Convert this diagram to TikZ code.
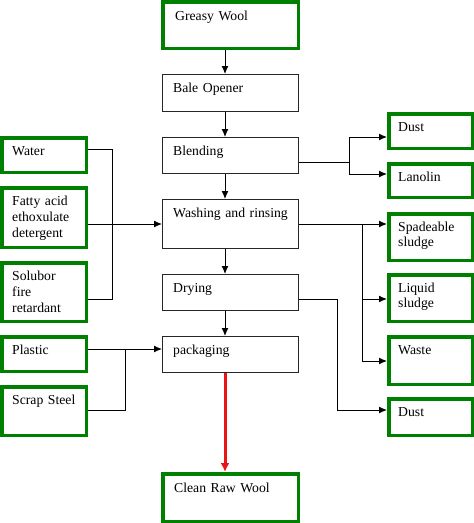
\documentclass[tikz,border=0pt]{standalone}
\usepackage{fontspec}
\setmainfont{Liberation Serif}
\usetikzlibrary{arrows.meta}
\definecolor{boxgreen}{RGB}{0,128,0}
\definecolor{flowred}{RGB}{235,20,20}

\begin{document}
\begin{tikzpicture}[x=1pt,y=-1pt,inner sep=0pt]
\tikzstyle{gbox}=[rectangle, draw=boxgreen, line width=3.5pt, anchor=north west]
\tikzstyle{pbox}=[rectangle, draw=black!85, line width=1pt, anchor=north west, minimum width=136pt]
\tikzstyle{lbox}=[gbox, minimum width=84.5pt]
\tikzstyle{rbox}=[gbox, minimum width=83.5pt]
\tikzstyle{lab}=[anchor=base west, text width=120pt, align=left, font=\fontsize{13.7}{15.8}\selectfont]
\tikzstyle{connect}=[-{Latex[length=8pt,width=7pt]}, line width=1pt]
\tikzstyle{plain}=[line width=1pt]
\tikzstyle{final}=[-{Latex[length=9pt,width=9pt]}, line width=3pt, draw=flowred, fill=flowred]
\useasboundingbox (0,0) rectangle (474,523);
% main line
\node[gbox, minimum width=135.5pt, minimum height=46.5pt] (greasy) at (161,0) {};
\node[pbox, minimum height=37pt] (bale) at (162,74) {};
\node[pbox, minimum height=36pt] (blend) at (162,137) {};
\node[pbox, minimum height=49pt] (wash) at (162,199) {};
\node[pbox, minimum height=36pt] (dry) at (162,274) {};
\node[pbox, minimum height=36pt] (pack) at (162,336) {};
\node[gbox, minimum width=135.5pt, minimum height=47.5pt] (clean) at (161,472) {};
% inputs
\node[lbox, minimum height=34.5pt] (water) at (0,136) {};
\node[lbox, minimum height=59.5pt] (fatty) at (0,186) {};
\node[lbox, minimum height=58.5pt] (solubor) at (0,261) {};
\node[lbox, minimum height=34.5pt] (plastic) at (0,335) {};
\node[lbox, minimum height=48.5pt] (scrap) at (0,385) {};
% outputs
\node[rbox, minimum height=34.5pt] (dust1) at (387,112) {};
\node[rbox, minimum height=33.5pt] (lanolin) at (387,162) {};
\node[rbox, minimum height=46.5pt] (spade) at (387,212) {};
\node[rbox, minimum height=46.5pt] (liquid) at (387,273) {};
\node[rbox, minimum height=47.5pt] (waste) at (387,335) {};
\node[rbox, minimum height=36.5pt] (dust2) at (387,397) {};
% texts
\node[lab] (greasy-t) at ([shift={(14,20)}]greasy.north west) {Greasy Wool};
\node[lab] (bale-t) at ([shift={(11,18.5)}]bale.north west) {Bale Opener};
\node[lab] (blend-t) at ([shift={(11,18.5)}]blend.north west) {Blending};
\node[lab] (wash-t) at ([shift={(11,18.5)}]wash.north west) {Washing and rinsing};
\node[lab] (dry-t) at ([shift={(11,18.5)}]dry.north west) {Drying};
\node[lab] (pack-t) at ([shift={(11,18.5)}]pack.north west) {packaging};
\node[lab] (clean-t) at ([shift={(13,20)}]clean.north west) {Clean Raw Wool};
\node[lab] (water-t) at ([shift={(12,19.5)}]water.north west) {Water};
\node[lab] (fatty-t) at ([shift={(12,19.5)}]fatty.north west) {Fatty acid\\ethoxulate\\detergent};
\node[lab] (solubor-t) at ([shift={(12,19.5)}]solubor.north west) {Solubor\\fire\\retardant};
\node[lab] (plastic-t) at ([shift={(12,19.5)}]plastic.north west) {Plastic};
\node[lab] (scrap-t) at ([shift={(12,19.5)}]scrap.north west) {Scrap Steel};
\node[lab] (dust1-t) at ([shift={(11,19)}]dust1.north west) {Dust};
\node[lab] (lanolin-t) at ([shift={(11,19)}]lanolin.north west) {Lanolin};
\node[lab] (spade-t) at ([shift={(11,19)}]spade.north west) {Spadeable\\sludge};
\node[lab] (liquid-t) at ([shift={(11,19)}]liquid.north west) {Liquid\\sludge};
\node[lab] (waste-t) at ([shift={(11,19)}]waste.north west) {Waste};
\node[lab] (dust2-t) at ([shift={(11,19)}]dust2.north west) {Dust};
% junctions
\coordinate (spine) at (225,0);
\coordinate (lbus) at (112,224);
\coordinate (pbus) at (125,349);
\coordinate (rbus1) at (349,162);
\coordinate (rbus2) at (362,224);
\coordinate (rbus3) at (337,299);
% main arrows
\draw[connect] (greasy.south -| spine) -- (bale.north -| spine);
\draw[connect] (bale.south -| spine) -- (blend.north -| spine);
\draw[connect] (blend.south -| spine) -- (wash.north -| spine);
\draw[connect] (wash.south -| spine) -- (dry.north -| spine);
\draw[connect] (dry.south -| spine) -- (pack.north -| spine);
\draw[final] (pack.south -| spine) -- (clean.north -| spine);
% inputs
\draw[plain] (water.east |- 0,149) -| (lbus);
\draw[plain] (solubor.east |- 0,299) -| (lbus);
\draw[connect] (fatty.east |- lbus) -- (wash.west |- lbus);
\draw[connect] (plastic.east |- pbus) -- (pack.west |- pbus);
\draw[plain] (scrap.east |- 0,410) -| (pbus);
% outputs
\draw[plain] (blend.east |- rbus1) -- (rbus1);
\draw[connect] (rbus1) |- (dust1.west |- 0,137);
\draw[connect] (rbus1) |- (lanolin.west |- 0,174);
\draw[connect] (wash.east |- rbus2) -- (spade.west |- rbus2);
\draw[connect] (rbus2) |- (liquid.west |- 0,299);
\draw[connect] (rbus2) |- (waste.west |- 0,361);
\draw[plain] (dry.east |- rbus3) -- (rbus3);
\draw[connect] (rbus3) |- (dust2.west |- 0,410);
\end{tikzpicture}
\end{document}
